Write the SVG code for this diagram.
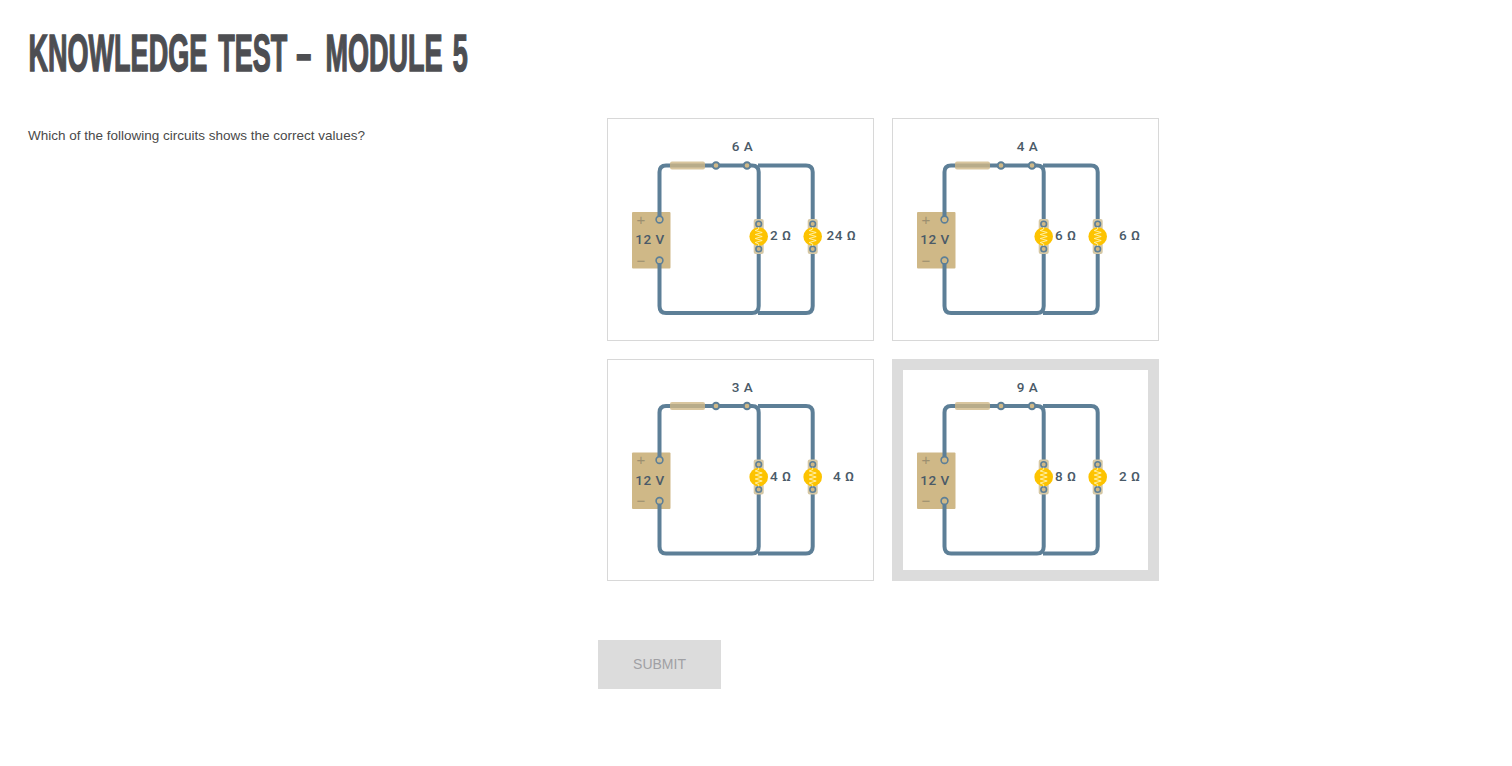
<svg xmlns="http://www.w3.org/2000/svg" width="1512" height="766" viewBox="0 0 1512 766">
<style>
text{font-family:"Liberation Sans",Arial,sans-serif}
.lbl{font-family:Roboto,"Liberation Sans",sans-serif;font-size:13.5px;font-weight:500;fill:#4a5a68;letter-spacing:.5px}
.wire{fill:none;stroke:#5d7f97;stroke-width:4;stroke-linejoin:round}
.tan{fill:#cfb887}
.holder{fill:#d6c8a4}
.term{fill:#cfb887;stroke:#5d7f97;stroke-width:1.600}
.termg{fill:#cfb887;stroke:#5d7f97;stroke-width:2}
.card{fill:#fff;stroke:#d8d8d8;stroke-width:1}
.coil{fill:none;stroke:#fff3b0;stroke-width:.9}
.sign{font-size:15px;fill:#9c8f70}
.title{font-size:52px;font-weight:700;fill:#4d4e52;stroke:#4d4e52;stroke-width:1.500}
</style>
<defs>
<g id="bulb">
<rect class="holder" x="-5" y="-17.500" width="10" height="35" rx="2"/>
<circle r="9.300" fill="#fdc300"/>
<circle class="term" cy="-12.500" r="2.800"/>
<circle class="term" cy="12.500" r="2.800"/>
<path class="coil" d="M0-9.500V-7.500L-3.500-6 3.500-4-3.500-2 3.500 0-3.500 2 3.500 4-3.500 6 0 7.500V9.500"/>
</g>
<g id="circuit">
<rect class="tan" x="632" y="212" width="38.500" height="56.500" rx="1"/>
<g class="wires">
<path class="wire" d="M659.500 216V172Q659.500 165.500 666 165.500H752Q758.700 165.500 758.700 172V222"/>
<path class="wire" d="M758 165.500H806Q812.700 165.500 812.700 172V222"/>
<path class="wire" d="M659.500 264V306Q659.500 313 666 313H752Q758.700 313 758.700 306V251"/>
<path class="wire" d="M758 313H806Q812.700 313 812.700 306V251"/>
</g>
<rect class="tan" x="670" y="161.500" width="35" height="8" rx="2" opacity=".8"/>
<circle class="termg" cx="716" cy="165.500" r="3.300"/>
<circle class="termg" cx="747" cy="165.500" r="3.300"/>
<circle class="term" cx="659.500" cy="219.500" r="3.400" stroke-width="2"/>
<circle class="term" cx="659.500" cy="260.500" r="3.400" stroke-width="2"/>
<text class="sign" x="641" y="224.500" text-anchor="middle">+</text>
<text class="sign" x="641" y="265.500" text-anchor="middle">−</text>
<text class="lbl" x="650" y="244" text-anchor="middle">12 V</text>
<use href="#bulb" x="758.700" y="236.500"/>
<use href="#bulb" x="812.700" y="236.500"/>
</g>
</defs>
<rect width="1512" height="766" fill="#fff"/>
<text class="title" transform="translate(28.500 70.500) scale(.52 1)"><tspan x="0">KNOWLEDGE</tspan> <tspan x="365">TEST</tspan> <tspan x="515">–</tspan> <tspan x="571">MODULE</tspan> <tspan x="816">5</tspan></text>
<text x="28" y="140" font-size="13.500" fill="#4a4a4a">Which of the following circuits shows the correct values?</text>

<g id="option-1">
<rect class="card" x="607.500" y="118.500" width="266" height="222"/>
<use href="#circuit"/>
<text class="lbl" x="742.500" y="151" text-anchor="middle">6 A</text>
<text class="lbl" x="770" y="240">2 Ω</text>
<text class="lbl" x="826.500" y="240">24 Ω</text>
</g>
<g id="option-2">
<rect class="card" x="892.500" y="118.500" width="266" height="222"/>
<use href="#circuit" x="285"/>
<text class="lbl" x="1027.500" y="151" text-anchor="middle">4 A</text>
<text class="lbl" x="1055" y="240">6 Ω</text>
<text class="lbl" x="1119" y="240">6 Ω</text>
</g>
<g id="option-3">
<rect class="card" x="607.500" y="359.500" width="266" height="221"/>
<use href="#circuit" y="240.500"/>
<text class="lbl" x="742.500" y="392" text-anchor="middle">3 A</text>
<text class="lbl" x="770" y="481">4 Ω</text>
<text class="lbl" x="833" y="481">4 Ω</text>
</g>
<g id="option-4">
<rect x="897.500" y="364.500" width="256" height="211" fill="#fff" stroke="#dcdcdc" stroke-width="11"/>
<use href="#circuit" x="285" y="240.500"/>
<text class="lbl" x="1027.500" y="392" text-anchor="middle">9 A</text>
<text class="lbl" x="1055" y="481">8 Ω</text>
<text class="lbl" x="1119" y="481">2 Ω</text>
</g>
<g id="submit">
<rect x="598" y="640" width="123" height="49" fill="#dcdcdc"/>
<text x="659.500" y="669" font-size="14" fill="#a0a0a4" text-anchor="middle">SUBMIT</text>
</g>
</svg>
